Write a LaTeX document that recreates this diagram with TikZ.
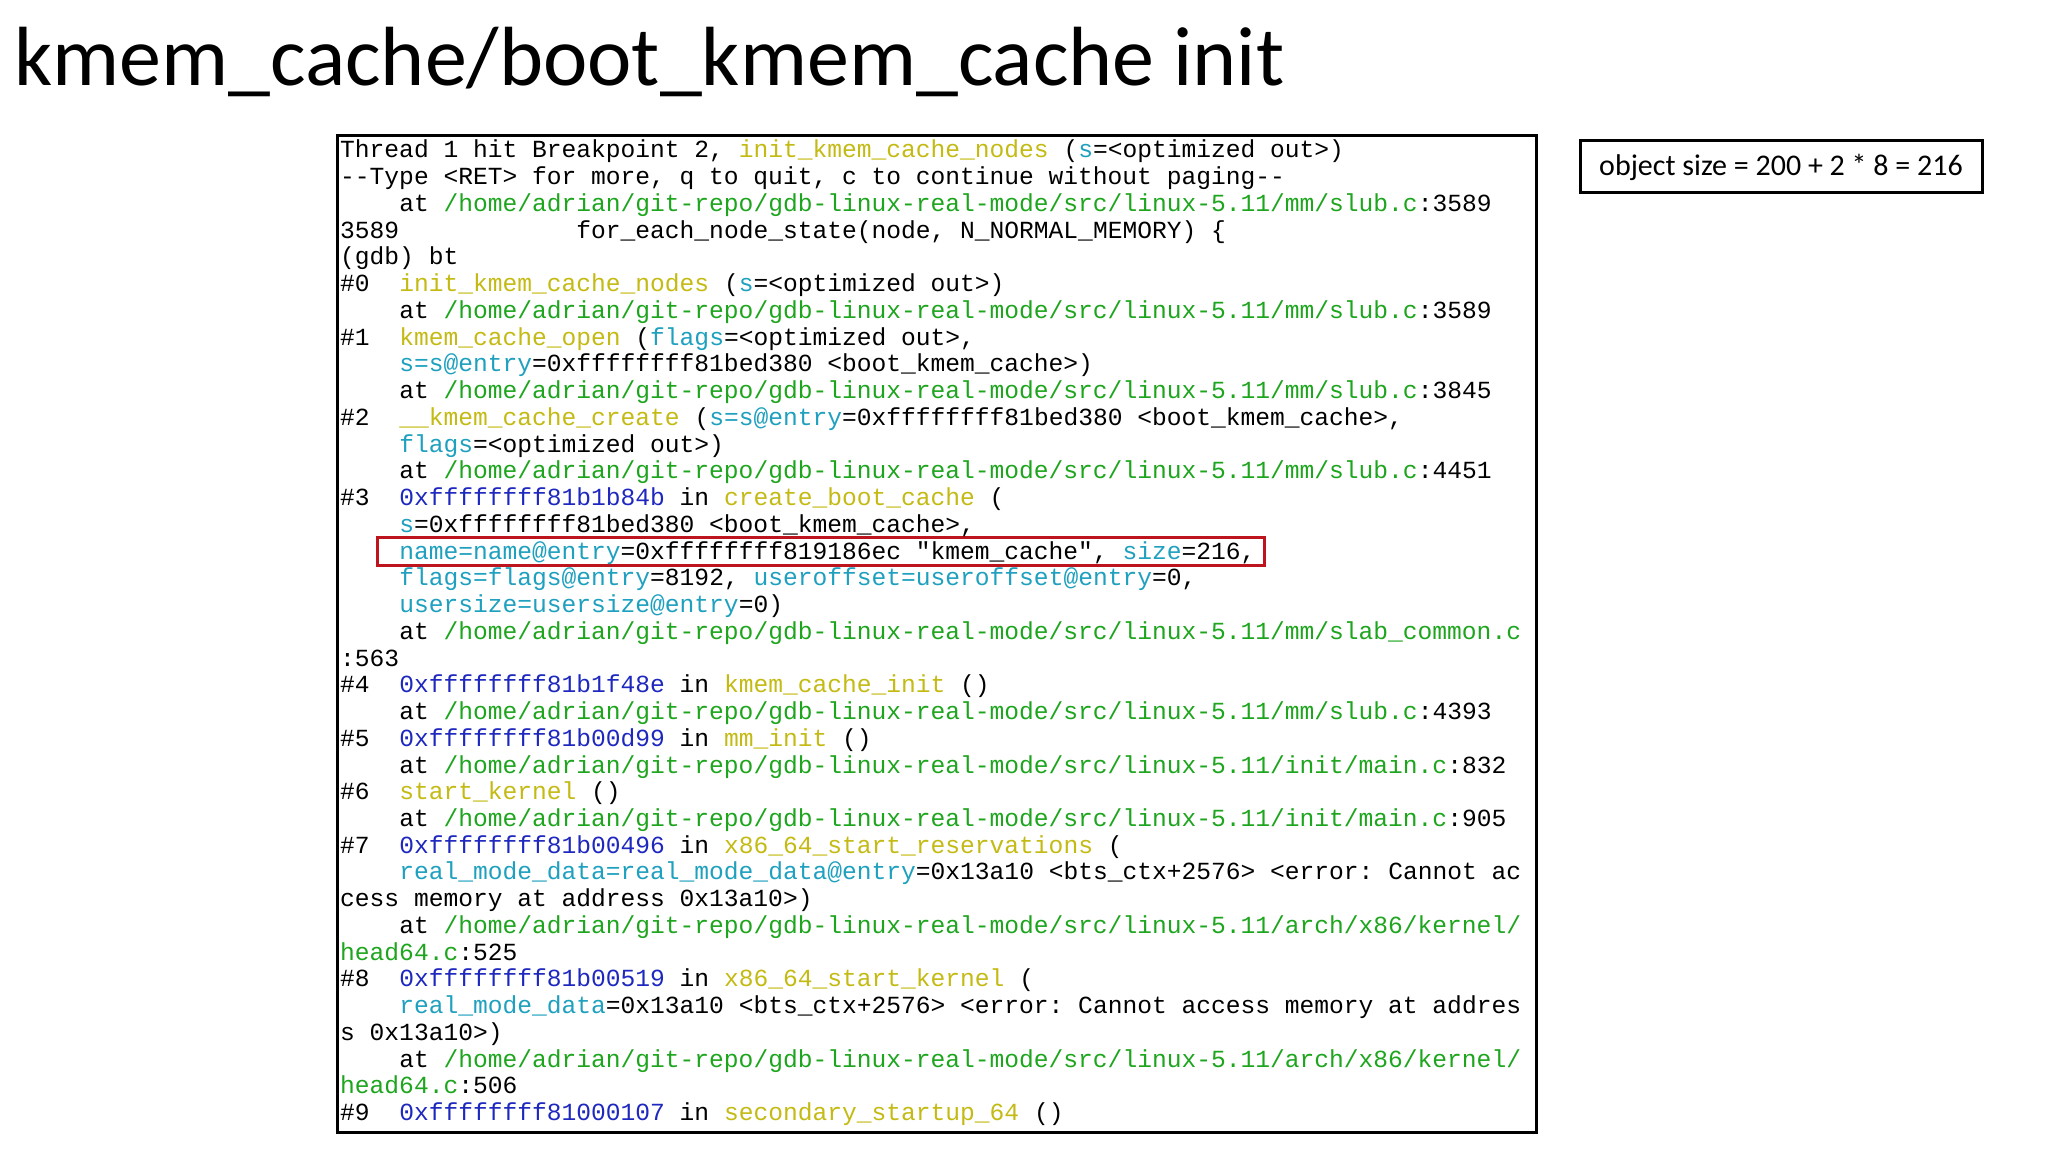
\documentclass[tikz,border=0pt]{standalone}
\usepackage{fontspec}
\setmainfont{Carlito}
\setmonofont{Liberation Mono}
\definecolor{fnc}{RGB}{196,186,20}
\definecolor{pac}{RGB}{30,165,30}
\definecolor{prc}{RGB}{30,160,190}
\definecolor{adc}{RGB}{30,40,190}
\definecolor{redb}{RGB}{190,20,30}
\newcommand\fn[1]{\textcolor{fnc}{#1}}
\newcommand\pa[1]{\textcolor{pac}{#1}}
\newcommand\pr[1]{\textcolor{prc}{#1}}
\newcommand\ad[1]{\textcolor{adc}{#1}}
\newcommand\rp{/home/adrian/git-repo/gdb-linux-real-mode/src/linux-5.11/}
\newcommand\ii{\ \ \ \ }
\begin{document}
\begin{tikzpicture}[x=1pt,y=1pt,
  cl/.style={anchor=base west,inner sep=0pt,font=\fontsize{24.6}{27}\ttfamily}]
\useasboundingbox (0,0) rectangle (2048,1152);
\node[anchor=base west,inner sep=0pt,font=\fontsize{84}{94}\selectfont] (title) at (14,1152-86) {kmem\_cache/boot\_kmem\_cache init};
\draw[line width=3pt] (337,1152-136) rectangle (1536,1152-1132);
\node[draw,line width=3pt,minimum width=402pt,minimum height=52pt,font=\fontsize{30}{34}\selectfont] (obj) at (1781,1152-167) {object size = 200 + 2 * 8 = 216};
\draw[redb,line width=3pt] (377,1152-538) rectangle (1264,1152-566);
\foreach \t [count=\i from 0] in {
{Thread 1 hit Breakpoint 2, \fn{init\_kmem\_cache\_nodes} (\pr{s}=<optimized out>)},
{-{}-Type <RET> for more, q to quit, c to continue without paging-{}-},
{\ii at \pa{\rp mm/slub.c}:3589},
{3589\ \ \ \ \ \ \ \ \ \ \ \ for\_each\_node\_state(node, N\_NORMAL\_MEMORY) \{},
{(gdb) bt},
{\#0\ \ \fn{init\_kmem\_cache\_nodes} (\pr{s}=<optimized out>)},
{\ii at \pa{\rp mm/slub.c}:3589},
{\#1\ \ \fn{kmem\_cache\_open} (\pr{flags}=<optimized out>,},
{\ii\pr{s=s@entry}=0xffffffff81bed380 <boot\_kmem\_cache>)},
{\ii at \pa{\rp mm/slub.c}:3845},
{\#2\ \ \fn{\_\_kmem\_cache\_create} (\pr{s=s@entry}=0xffffffff81bed380 <boot\_kmem\_cache>,},
{\ii\pr{flags}=<optimized out>)},
{\ii at \pa{\rp mm/slub.c}:4451},
{\#3\ \ \ad{0xffffffff81b1b84b} in \fn{create\_boot\_cache} (},
{\ii\pr{s}=0xffffffff81bed380 <boot\_kmem\_cache>,},
{\ii\pr{name=name@entry}=0xffffffff819186ec "kmem\_cache", \pr{size}=216,},
{\ii\pr{flags=flags@entry}=8192, \pr{useroffset=useroffset@entry}=0,},
{\ii\pr{usersize=usersize@entry}=0)},
{\ii at \pa{\rp mm/slab\_common.c}},
{:563},
{\#4\ \ \ad{0xffffffff81b1f48e} in \fn{kmem\_cache\_init} ()},
{\ii at \pa{\rp mm/slub.c}:4393},
{\#5\ \ \ad{0xffffffff81b00d99} in \fn{mm\_init} ()},
{\ii at \pa{\rp init/main.c}:832},
{\#6\ \ \fn{start\_kernel} ()},
{\ii at \pa{\rp init/main.c}:905},
{\#7\ \ \ad{0xffffffff81b00496} in \fn{x86\_64\_start\_reservations} (},
{\ii\pr{real\_mode\_data=real\_mode\_data@entry}=0x13a10 <bts\_ctx+2576> <error: Cannot ac},
{cess memory at address 0x13a10>)},
{\ii at \pa{\rp arch/x86/kernel/}},
{\pa{head64.c}:525},
{\#8\ \ \ad{0xffffffff81b00519} in \fn{x86\_64\_start\_kernel} (},
{\ii\pr{real\_mode\_data}=0x13a10 <bts\_ctx+2576> <error: Cannot access memory at addres},
{s 0x13a10>)},
{\ii at \pa{\rp arch/x86/kernel/}},
{\pa{head64.c}:506},
{\#9\ \ \ad{0xffffffff81000107} in \fn{secondary\_startup\_64} ()}}
{ \node[cl] (l\i) at (340,1152-158-26.74*\i) {\t}; }
\end{tikzpicture}
\end{document}
